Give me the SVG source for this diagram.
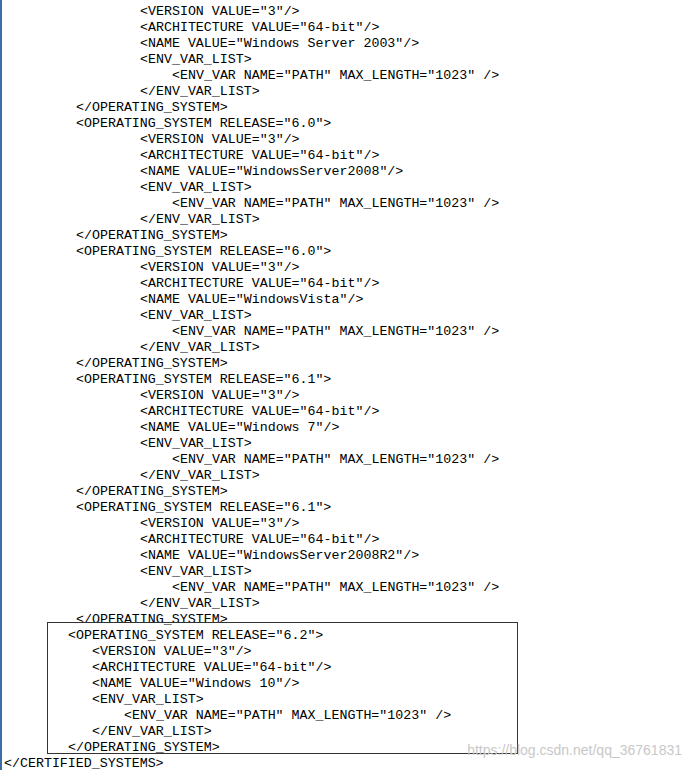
<svg xmlns="http://www.w3.org/2000/svg" width="690" height="770" viewBox="0 0 690 770">
<style>
text{font-family:"Liberation Mono","Noto Sans CJK SC",monospace;font-size:13.3px;fill:#000;white-space:pre}
.a{}.w{font-family:"Liberation Sans",sans-serif;font-size:14px;fill:#c8c8c8}
</style>
<rect width="690" height="770" fill="#fff"/>
<line x1="1" y1="0" x2="1" y2="770" stroke="#3a6ea5" stroke-width="2"/>
<g id="code">
<text x="140" y="15">&lt;VERSION VALUE="3"/&gt;</text>
<text x="140" y="31">&lt;ARCHITECTURE VALUE="64-bit"/&gt;</text>
<text x="140" y="47">&lt;NAME VALUE="Windows Server 2003"/&gt;</text>
<text x="140" y="63">&lt;ENV_VAR_LIST&gt;</text>
<text x="172" y="79">&lt;ENV_VAR NAME="PATH" MAX_LENGTH="1023" /&gt;</text>
<text x="140" y="95">&lt;/ENV_VAR_LIST&gt;</text>
<text x="76" y="111">&lt;/OPERATING_SYSTEM&gt;</text>
<text x="76" y="127">&lt;OPERATING_SYSTEM RELEASE="6.0"&gt;</text>
<text x="140" y="143">&lt;VERSION VALUE="3"/&gt;</text>
<text x="140" y="159">&lt;ARCHITECTURE VALUE="64-bit"/&gt;</text>
<text x="140" y="175">&lt;NAME VALUE="WindowsServer2008"/&gt;</text>
<text x="140" y="191">&lt;ENV_VAR_LIST&gt;</text>
<text x="172" y="207">&lt;ENV_VAR NAME="PATH" MAX_LENGTH="1023" /&gt;</text>
<text x="140" y="223">&lt;/ENV_VAR_LIST&gt;</text>
<text x="76" y="239">&lt;/OPERATING_SYSTEM&gt;</text>
<text x="76" y="255">&lt;OPERATING_SYSTEM RELEASE="6.0"&gt;</text>
<text x="140" y="271">&lt;VERSION VALUE="3"/&gt;</text>
<text x="140" y="287">&lt;ARCHITECTURE VALUE="64-bit"/&gt;</text>
<text x="140" y="303">&lt;NAME VALUE="WindowsVista"/&gt;</text>
<text x="140" y="319">&lt;ENV_VAR_LIST&gt;</text>
<text x="172" y="335">&lt;ENV_VAR NAME="PATH" MAX_LENGTH="1023" /&gt;</text>
<text x="140" y="351">&lt;/ENV_VAR_LIST&gt;</text>
<text x="76" y="367">&lt;/OPERATING_SYSTEM&gt;</text>
<text x="76" y="383">&lt;OPERATING_SYSTEM RELEASE="6.1"&gt;</text>
<text x="140" y="399">&lt;VERSION VALUE="3"/&gt;</text>
<text x="140" y="415">&lt;ARCHITECTURE VALUE="64-bit"/&gt;</text>
<text x="140" y="431">&lt;NAME VALUE="Windows 7"/&gt;</text>
<text x="140" y="447">&lt;ENV_VAR_LIST&gt;</text>
<text x="172" y="463">&lt;ENV_VAR NAME="PATH" MAX_LENGTH="1023" /&gt;</text>
<text x="140" y="479">&lt;/ENV_VAR_LIST&gt;</text>
<text x="76" y="495">&lt;/OPERATING_SYSTEM&gt;</text>
<text x="76" y="511">&lt;OPERATING_SYSTEM RELEASE="6.1"&gt;</text>
<text x="140" y="527">&lt;VERSION VALUE="3"/&gt;</text>
<text x="140" y="543">&lt;ARCHITECTURE VALUE="64-bit"/&gt;</text>
<text x="140" y="559">&lt;NAME VALUE="WindowsServer2008R2"/&gt;</text>
<text x="140" y="575">&lt;ENV_VAR_LIST&gt;</text>
<text x="172" y="591">&lt;ENV_VAR NAME="PATH" MAX_LENGTH="1023" /&gt;</text>
<text x="140" y="607">&lt;/ENV_VAR_LIST&gt;</text>
<text x="76" y="623">&lt;/OPERATING_SYSTEM&gt;</text>
</g>
<g id="highlight">
<rect x="47.5" y="622.5" width="470" height="131" fill="none" stroke="#333" stroke-width="1"/>
<text x="68" y="639">&lt;OPERATING_SYSTEM RELEASE="6.2"&gt;</text>
<text x="92" y="655">&lt;VERSION VALUE="3"/&gt;</text>
<text x="92" y="671">&lt;ARCHITECTURE VALUE="64-bit"/&gt;</text>
<text x="92" y="687">&lt;NAME VALUE="Windows 10"/&gt;</text>
<text x="92" y="703">&lt;ENV_VAR_LIST&gt;</text>
<text x="124" y="719">&lt;ENV_VAR NAME="PATH" MAX_LENGTH="1023" /&gt;</text>
<text x="92" y="735">&lt;/ENV_VAR_LIST&gt;</text>
<text x="68" y="751">&lt;/OPERATING_SYSTEM&gt;</text>
</g>
<text x="4" y="767">&lt;/CERTIFIED_SYSTEMS&gt;</text>
<text class="w" x="682" y="755" text-anchor="end">https://blog.csdn.net/qq_36761831</text>
</svg>
